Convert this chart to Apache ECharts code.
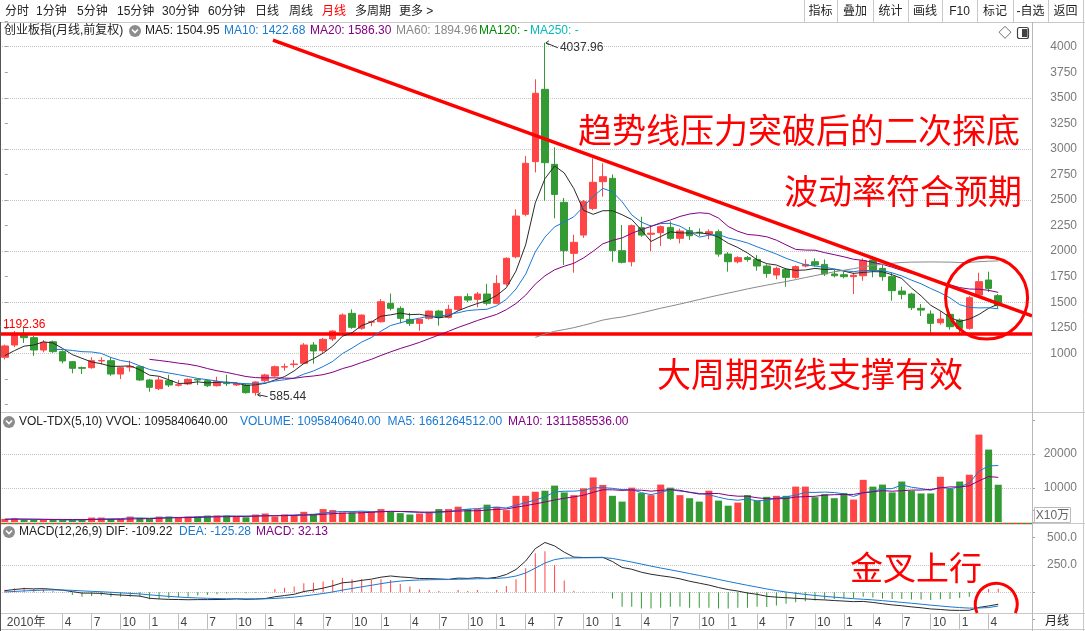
<!DOCTYPE html>
<html><head><meta charset="utf-8">
<script src="https://cdn.jsdelivr.net/npm/echarts/dist/echarts.min.js"></script>
<style>html,body{margin:0;padding:0;background:#fff;}#c{width:1085px;height:631px;}</style>
</head><body><div id="c"></div><script>
const FONT = '"Liberation Sans","Noto Sans CJK SC",sans-serif';
const CJK = '"Noto Sans CJK SC",sans-serif';

const categories = [
'2010/10','2010/11','2010/12',
'2011/1','2011/2','2011/3','2011/4','2011/5','2011/6','2011/7','2011/8','2011/9','2011/10','2011/11','2011/12',
'2012/1','2012/2','2012/3','2012/4','2012/5','2012/6','2012/7','2012/8','2012/9','2012/10','2012/11','2012/12',
'2013/1','2013/2','2013/3','2013/4','2013/5','2013/6','2013/7','2013/8','2013/9','2013/10','2013/11','2013/12',
'2014/1','2014/2','2014/3','2014/4','2014/5','2014/6','2014/7','2014/8','2014/9','2014/10','2014/11','2014/12',
'2015/1','2015/2','2015/3','2015/4','2015/5','2015/6','2015/7','2015/8','2015/9','2015/10','2015/11','2015/12',
'2016/1','2016/2','2016/3','2016/4','2016/5','2016/6','2016/7','2016/8','2016/9','2016/10','2016/11','2016/12',
'2017/1','2017/2','2017/3','2017/4','2017/5','2017/6','2017/7','2017/8','2017/9','2017/10','2017/11','2017/12',
'2018/1','2018/2','2018/3','2018/4','2018/5','2018/6','2018/7','2018/8','2018/9','2018/10','2018/11','2018/12',
'2019/1','2019/2','2019/3','2019/4','2019/5','2019/6','2019/7','2019/8'];

const openP = [961,1081,1195,1153,1032,1113,1016,918,860,859,
925,928,797,865,869,739,654,732,688,700,
745,732,683,710,690,690,615,732,778,865,
890,902,1081,1026,1140,1211,1391,1245,1305,1309,
1489,1440,1332,1293,1342,1413,1351,1430,1554,1528,
1580,1489,1678,1945,2360,2875,3583,2849,2477,1978,
2157,2418,2679,2712,2004,1896,2229,2165,2180,2232,
2125,2200,2185,2167,2190,1971,1896,1936,1919,1854,
1766,1821,1743,1854,1896,1870,1776,1769,1750,1759,
1913,1831,1750,1609,1580,1440,1384,1299,1381,1326,
1244,1570,1717,1564];
const closeP = [1072,1195,1153,1032,1107,1016,925,853,853,928,
930,797,859,870,739,667,739,690,692,745,
739,683,722,703,703,615,719,788,869,869,
895,1081,1023,1137,1218,1375,1254,1374,1309,1505,
1440,1342,1293,1332,1413,1351,1430,1554,1521,1580,
1489,1684,1929,2343,2859,3544,2865,2555,2004,2086,
2484,2673,2728,2004,1890,2249,2157,2175,2239,2125,
2196,2150,2180,2190,1971,1896,1936,1919,1854,1782,
1831,1743,1848,1870,1864,1776,1759,1750,1763,1906,
1815,1750,1613,1577,1446,1423,1293,1335,1260,1244,
1544,1701,1635,1466];
const highP = [1085,1218,1254,1170,1130,1125,1030,925,870,961,
961,961,870,928,880,750,771,790,739,755,
755,745,771,790,715,700,725,800,880,900,
935,1100,1110,1150,1225,1390,1430,1380,1320,1530,
1585,1460,1396,1335,1420,1425,1475,1560,1586,1600,
1680,1765,1940,2408,2930,3681,4037.96,3015,2520,2160,
2500,2908,2859,2750,2255,2260,2337,2255,2250,2290,
2220,2235,2222,2212,2210,1990,1950,1952,1962,1870,
1848,1835,1860,1919,1929,1919,1815,1799,1789,1929,
1952,1864,1790,1652,1593,1482,1420,1414,1400,1340,
1560,1789,1799,1580];
const lowP = [940,1060,1101,975,1010,1005,902,804,797,850,
890,780,748,820,730,624,640,670,675,690,
690,670,675,680,680,605,585.44,720,770,830,
860,895,899,1000,1120,1200,1240,1230,1265,1300,
1420,1294,1267,1220,1330,1270,1340,1420,1500,1450,
1470,1480,1660,1930,2340,2770,2493,2320,1864,1789,
2130,2400,2532,1896,1880,1850,2140,2000,2050,2110,
2075,2110,2147,2115,1945,1799,1880,1896,1808,1740,
1724,1652,1730,1841,1848,1756,1743,1733,1580,1710,
1743,1710,1515,1528,1423,1365,1184,1280,1230,1184,
1230,1550,1600,1440];

const ma5 = [977,1026,1070,1081,1112,1101,1047,987,951,915,
898,872,873,877,839,786,775,741,705,707,
721,710,716,718,710,685,692,706,739,772,
828,900,947,1001,1071,1167,1201,1272,1306,1363,
1376,1394,1378,1382,1364,1346,1364,1416,1454,1487,
1515,1566,1641,1805,2061,2472,2708,2833,2765,2611,
2399,2360,2395,2395,2356,2309,2206,2095,2142,2189,
2178,2177,2178,2168,2137,2077,2035,1982,1915,1877,
1864,1826,1812,1815,1831,1820,1823,1804,1782,1791,
1799,1797,1769,1732,1640,1562,1470,1415,1351,1311,
1335,1380,1440,1482];
const ma10 = [null,null,null,null,null,1039,1037,1028,1016,1013,
999,959,930,914,877,842,824,807,791,773,
754,742,729,712,708,703,701,711,729,741,
757,796,827,870,921,997,1051,1110,1154,1217,
1272,1298,1325,1344,1364,1361,1379,1397,1418,1426,
1431,1465,1528,1629,1774,1993,2137,2237,2285,2336,
2435,2534,2614,2580,2483,2354,2283,2245,2269,2272,
2244,2191,2137,2155,2163,2128,2106,2080,2042,2007,
1971,1930,1897,1865,1854,1842,1825,1808,1799,1811,
1809,1810,1787,1757,1716,1680,1634,1592,1542,1476,
1449,1444,1446,1435];
const ma20 = [null,null,null,null,null,null,null,null,null,null,
null,null,null,null,null,941,930,918,904,893,
876,851,829,813,793,773,762,759,760,757,
755,769,778,791,815,850,876,910,941,979,
1014,1047,1076,1107,1143,1179,1215,1253,1286,1321,
1351,1381,1427,1487,1569,1677,1758,1817,1852,1881,
1933,1999,2071,2105,2129,2174,2210,2241,2277,2304,
2339,2363,2375,2368,2323,2241,2194,2163,2155,2140,
2107,2061,2017,2010,2009,1985,1965,1944,1920,1909,
1890,1870,1842,1811,1785,1761,1729,1700,1670,1643,
1629,1627,1616,1596];
const ma60 = [null,null,null,null,null,null,null,null,null,null,
null,null,null,null,null,null,null,null,null,null,
null,null,null,null,null,null,null,null,null,null,
null,null,null,null,null,null,null,null,null,null,
null,null,null,null,null,null,null,null,null,null,
null,null,null,null,null,1156,1188,1215,1232,1251,
1274,1299,1325,1342,1355,1375,1396,1418,1441,1461,
1482,1504,1526,1548,1569,1589,1609,1630,1649,1667,
1685,1702,1721,1741,1760,1779,1797,1813,1828,1845,
1860,1871,1881,1889,1892,1893,1894,1893,1892,1888,
1890,1896,1901,1904];

const volume = [900,1100,700,600,600,600,600,600,600,1300,
1300,900,900,1600,1200,900,1600,1600,1400,1600,
1600,1900,1900,1900,1600,1400,2200,2500,1600,2200,
1900,3000,2400,3800,3500,2800,2800,3100,3000,3800,
3000,2600,2200,2500,3000,3800,3800,4500,3800,3800,
5100,4500,3500,7700,7700,8900,9200,10700,8700,7900,
9900,13100,10900,7700,6000,10100,8500,7900,11000,10100,
7900,7000,6000,9200,6300,4800,5700,7900,6300,7400,
7700,7700,10400,10400,7300,8200,7000,8500,6600,12400,
10400,11000,8700,11900,9200,8400,8400,13300,9700,11900,
13900,25700,21300,10958];
const volMa5 = [820,880,860,820,780,720,620,600,600,740,
880,940,1000,1200,1180,1100,1240,1380,1340,1420,
1560,1620,1680,1780,1780,1740,1800,1920,1860,1980,
2080,2240,2220,2660,2920,3100,3060,3200,3040,3100,
3140,3100,2920,2820,2660,2820,3060,3520,3780,3940,
4200,4340,4140,4920,5700,6460,7400,8840,9040,9080,
9280,10060,10100,9900,9520,9560,8640,8040,8700,9520,
9080,8780,8400,8040,7280,6660,6400,6780,6200,6420,
7000,7400,7900,8720,8700,8800,8660,8280,7520,8540,
8980,9780,9820,10880,10240,9840,9320,10240,9800,10340,
11440,14900,16500,16612];
const volMa10 = [810,840,830,810,790,770,750,730,710,760,
800,780,800,900,960,990,1090,1190,1270,1300,
1330,1430,1530,1560,1600,1650,1710,1800,1820,1880,
1910,2020,2070,2260,2450,2590,2650,2710,2850,3010,
3120,3080,3060,2930,2880,2980,3080,3220,3300,3300,
3510,3700,3830,4350,4820,5330,5870,6490,6980,7390,
7870,8730,9470,9470,9300,9420,9350,9070,9300,9520,
9320,8710,8220,8370,8400,7870,7590,7590,7120,6850,
6830,6900,7340,7460,7560,7900,8030,8090,8120,8620,
8890,9220,9050,9200,9390,9410,9550,10030,10340,10290,
10640,12110,13370,13116];

const dif = [15,25.5,33.8,31.5,33.4,27.4,19.5,6,-7,-7.6,
-9.9,-19.9,-24.9,-29.9,-34.9,-54.9,-61,-64.9,-66.1,-68.1,
-66.9,-66.9,-66.1,-64.6,-60.5,-64.6,-62,-56.8,-41,-29.8,
-18.3,7,21,38.2,59.8,87.1,94.5,109.4,120.5,138.4,
149.5,140.5,135,125.9,125.5,122.5,118.4,130,127,134.1,
127.4,137.5,163.2,208.6,286.6,399.7,456.2,424.5,367.6,322.5,
318.7,319.5,320.2,281.6,227.6,211.1,184,165.4,151.8,139.8,
123.3,101.2,83.6,66,43.4,24.8,11.2,-6.4,-18.4,-36.8,
-44.3,-49.9,-54.9,-60.2,-66.1,-69.9,-75.7,-80.3,-85.6,-83.6,
-93,-104.5,-115.3,-123.1,-133.4,-141.7,-152.5,-157.5,-164.3,-165.8,
-164.8,-138.6,-124.9,-109.22];
const dea = [3,7.5,12.8,16.5,19.9,21.4,21,18,13,8.9,
5.2,0.2,-4.9,-9.9,-14.9,-22.9,-30.5,-37.4,-43.1,-48.1,
-51.9,-54.9,-57.1,-58.6,-59,-60.1,-60.5,-59.8,-56,-50.8,
-44.3,-34,-23,-10.8,3.3,20.1,35,49.9,64,78.9,
93,102.5,109,112.4,115,116.5,116.9,119.5,121,123.6,
124.4,127,134.2,149.1,176.6,221.2,268.2,299.5,313.1,315,
315.7,316.5,317.2,310.1,293.6,277.1,258.5,239.9,222.3,205.8,
189.3,171.7,154.1,136.5,117.9,99.3,81.7,64.1,47.6,30.7,
15.7,2.6,-8.9,-19.2,-28.6,-36.9,-44.7,-51.8,-58.6,-63.6,
-69.5,-76.5,-84.3,-92.1,-100.4,-108.7,-117.5,-125.5,-133.3,-139.8,
-144.8,-143.6,-139.9,-125.28];
const macdHist = [24,36,42,30,27,12,-3,-24,-40,-33,
-30,-40,-40,-40,-40,-64,-61,-55,-46,-40,
-30,-24,-18,-12,-3,-9,-3,6,30,42,
52,82,88,98,113,134,119,119,113,119,
113,76,52,27,21,12,3,21,12,21,
6,21,58,119,220,357,376,250,109,15,
6,6,6,-57,-132,-132,-149,-149,-141,-132,
-132,-141,-141,-141,-149,-149,-141,-141,-132,-135,
-120,-105,-92,-82,-75,-66,-62,-57,-54,-40,
-47,-56,-62,-62,-66,-66,-70,-64,-62,-52,
-40,10,30,32.13];

const mainTicks = [1000,1250,1500,1750,2000,2250,2500,2750,3000,3250,3500,3750,4000];
const volTicks = [10000,20000];
const macdTicks = [250,500];
const neckline = 1192.36;
const trendLine = [[27.8,4065],[106.5,1367]];

const UP = '#ff4545', DOWN = '#349a34';
const GRID_C = '#c4c4c4', NONE = 'rgba(0,0,0,0)';

const kData = openP.map((o,i)=>[o, closeP[i], lowP[i], highP[i]]);
const volData = volume.map((v,i)=>({value:v,itemStyle:{color: closeP[i]>=openP[i]?UP:DOWN}}));
const histData = macdHist.map(v=>({value:v,itemStyle:{color: v>=0?UP:DOWN}}));

function monthOf(c){return +c.split('/')[1];}
function isQuarter(idx){ if(idx<6||idx>=openP.length) return false; const m=monthOf(categories[idx]); return m===1||m===4||m===7||m===10; }
function splitColors(min,max,step,keep){const a=[];for(let v=min;v<=max+1e-9;v+=step){a.push(keep(v)?GRID_C:NONE);}return a;}

const option = {
  animation:false,
  backgroundColor:'#ffffff',
  textStyle:{fontFamily:FONT},
  grid:[
    {left:0,width:1032,top:21.15,height:383.25},
    {left:0,width:1032,top:420,height:102},
    {left:0,width:1032,top:510.4,height:109.2},
    {left:0,width:1032,top:612.5,height:1}
  ],
  xAxis:[
    {type:'category',gridIndex:0,data:categories,show:false},
    {type:'category',gridIndex:1,data:categories,show:false},
    {type:'category',gridIndex:2,data:categories,show:false},
    {type:'value',gridIndex:0,min:-0.5,max:categories.length-0.5,show:false},
    {type:'category',gridIndex:3,data:categories,position:'bottom',
      axisLine:{show:false},
      axisTick:{show:true,alignWithLabel:true,length:16,interval:(i)=>isQuarter(i),lineStyle:{color:'#bdbdbd'}},
      axisLabel:{interval:(i)=>i===0||isQuarter(i),
        formatter:(v,i)=> i===0 ? v.split('/')[0]+'年' : String(monthOf(v)),
        align:'left',margin:3,color:'#444',fontSize:12,padding:[0,0,0,2],fontFamily:FONT},
      splitLine:{show:false}}
  ],
  yAxis:[
    {type:'value',gridIndex:0,position:'right',min:500,max:4250,interval:250,
      axisLine:{show:false},axisTick:{show:true,length:3,lineStyle:{color:'#a0a0a0'}},
      axisLabel:{formatter:v=>mainTicks.includes(v)?String(v):'',align:'right',margin:45,color:'#7a7a7a',fontSize:12},
      splitLine:{show:true,lineStyle:{type:'dotted',width:1,color:splitColors(500,4250,250,v=>v>=1000&&v<=4000&&v%500===0)}}},
    {type:'value',gridIndex:1,position:'right',min:0,max:30000,interval:10000,
      axisLine:{show:false},axisTick:{show:true,length:3,lineStyle:{color:'#a0a0a0'}},
      axisLabel:{formatter:v=>volTicks.includes(v)?String(v):'',align:'right',margin:45,color:'#7a7a7a',fontSize:12},
      splitLine:{show:true,lineStyle:{type:'dotted',width:1,color:splitColors(0,30000,10000,v=>volTicks.includes(v))}}},
    {type:'value',gridIndex:2,position:'right',min:-250,max:750,interval:250,
      axisLine:{show:false},axisTick:{show:true,length:3,lineStyle:{color:'#a0a0a0'}},
      axisLabel:{formatter:v=>macdTicks.includes(v)?v.toFixed(1):'',align:'right',margin:45,color:'#7a7a7a',fontSize:12},
      splitLine:{show:true,lineStyle:{type:'dotted',width:1,color:splitColors(-250,750,250,v=>v===0||v===250)}}},
    {type:'value',gridIndex:3,show:false}
  ],
  series:[
    {type:'candlestick',xAxisIndex:0,yAxisIndex:0,data:kData,barWidth:7,silent:true,
      itemStyle:{color:UP,color0:DOWN,borderColor:UP,borderColor0:DOWN,borderWidth:1},
      markLine:{silent:true,symbol:['none','none'],animation:false,
        data:[{yAxis:neckline}],
        lineStyle:{color:'#ff0000',width:3.5,type:'solid'},
        label:{show:true,position:'insideStartTop',formatter:String(neckline),color:'#ff0000',fontSize:12,distance:[3,3],fontFamily:FONT}}},
    {type:'line',xAxisIndex:0,yAxisIndex:0,data:ma5,symbol:'none',silent:true,z:5,lineStyle:{color:'#2a2a2a',width:1}},
    {type:'line',xAxisIndex:0,yAxisIndex:0,data:ma10,symbol:'none',silent:true,z:5,lineStyle:{color:'#1a78d2',width:1}},
    {type:'line',xAxisIndex:0,yAxisIndex:0,data:ma20,symbol:'none',silent:true,z:5,lineStyle:{color:'#840084',width:1}},
    {type:'line',xAxisIndex:0,yAxisIndex:0,data:ma60,symbol:'none',silent:true,z:5,lineStyle:{color:'#8a8a8a',width:1}},
    {type:'line',xAxisIndex:3,yAxisIndex:0,data:trendLine,symbol:'none',silent:true,z:6,lineStyle:{color:'#ff0000',width:3.5}},
    {type:'bar',xAxisIndex:1,yAxisIndex:1,data:volData,barWidth:7,silent:true},
    {type:'line',xAxisIndex:1,yAxisIndex:1,data:volMa5,symbol:'none',silent:true,z:5,lineStyle:{color:'#1a78d2',width:1}},
    {type:'line',xAxisIndex:1,yAxisIndex:1,data:volMa10,symbol:'none',silent:true,z:5,lineStyle:{color:'#840084',width:1}},
    {type:'bar',xAxisIndex:2,yAxisIndex:2,data:histData,barWidth:1,silent:true},
    {type:'line',xAxisIndex:2,yAxisIndex:2,data:dif,symbol:'none',silent:true,z:5,lineStyle:{color:'#2a2a2a',width:1}},
    {type:'line',xAxisIndex:2,yAxisIndex:2,data:dea,symbol:'none',silent:true,z:5,lineStyle:{color:'#1a78d2',width:1}}
  ]
};

const chart = echarts.init(document.getElementById('c'),null,{renderer:'canvas'});
chart.setOption(option);

function txt(x,y,s,color,size,align,fam){return {type:'text',x:x,y:y,z:100,silent:true,style:{text:s,fill:color||'#222',font:(size||12)+'px '+(fam||FONT),align:align||'left',verticalAlign:'middle'}};}
function ln(x1,y1,x2,y2,color,w,dash,off){return {type:'line',z:100,silent:true,shape:{x1:x1,y1:y1,x2:x2,y2:y2},style:{stroke:color,lineWidth:w||1,lineDash:dash||null,lineDashOffset:off||0}};}
function icon(cx,cy){return [
  {type:'circle',z:100,silent:true,shape:{cx:cx,cy:cy,r:6},style:{fill:'#8c8c8c'}},
  {type:'polyline',z:101,silent:true,shape:{points:[[cx-3,cy-1.5],[cx,cy+1.5],[cx+3,cy-1.5]]},style:{stroke:'#fff',lineWidth:1.6,fill:null}}
];}

const g = [];
// toolbar
[['分时',5],['1分钟',36],['5分钟',77],['15分钟',117],['30分钟',162],['60分钟',208],['日线',255],['周线',289]].forEach(a=>g.push(txt(a[1],12,a[0],'#222')));
g.push(txt(322,12,'月线','#ff0000'));
g.push(txt(355,12,'多周期','#222'));
g.push(txt(399,12,'更多 >','#222'));
[804,837,873,908,942,977,1013,1048,1083].forEach(x=>g.push(ln(x+0.5,0,x+0.5,22,'#c8c8c8')));
[['指标',820.5],['叠加',855],['统计',890.5],['画线',925],['F10',959.5],['标记',995],['-自选',1030.5],['返回',1065.5]].forEach(a=>g.push(txt(a[1],12,a[0],'#222',12,'center')));
g.push(ln(0,22.5,1085,22.5,'#c8c8c8'));
// main legend
g.push(txt(4,31,'创业板指(月线,前复权)','#222'));
icon(135,31).forEach(e=>g.push(e));
g.push(txt(145,31,'MA5: 1504.95','#222'));
g.push(txt(224,31,'MA10: 1422.68','#1a78d2'));
g.push(txt(310,31,'MA20: 1586.30','#840084'));
g.push(txt(396,31,'MA60: 1894.96','#888888'));
g.push(txt(479,31,'MA120: -','#008a00'));
g.push(txt(530,31,'MA250: -','#00bcbc'));
g.push(txt(1005,33,'◇','#444',13,'center'));
g.push({type:'rect',z:100,silent:true,shape:{x:1017.5,y:27.5,width:11,height:11,r:2},style:{fill:'#fff',stroke:'#444',lineWidth:1.2}});
g.push({type:'rect',z:101,silent:true,shape:{x:1022,y:29,width:5.5,height:8},style:{fill:'#444'}});
// panel frames
g.push(ln(0,412.5,1085,412.5,'#c8c8c8'));
g.push(ln(0,523.5,1032,523.5,'#2e9a2e',1.5,[3,3],3));
g.push(ln(0,523.5,1032,523.5,'#ff3a3a',1.5,[3,3],0));
g.push(ln(1032,523.5,1085,523.5,'#c8c8c8'));
g.push(ln(0,613.5,1085,613.5,'#c8c8c8'));
g.push(ln(0,629.5,1085,629.5,'#c8c8c8'));
g.push(ln(1032.5,22,1032.5,631,'#b8b8b8'));
g.push(ln(1083.5,0,1083.5,631,'#c8c8c8'));
g.push(ln(0.5,22,0.5,631,'#555'));
// volume legend
icon(9,422).forEach(e=>g.push(e));
g.push(txt(19,422,'VOL-TDX(5,10) VVOL: 1095840640.00','#222'));
g.push(txt(240,422,'VOLUME: 1095840640.00  MA5: 1661264512.00','#1a78d2'));
g.push(txt(508,422,'MA10: 1311585536.00','#840084'));
g.push({type:'rect',z:100,silent:true,shape:{x:1034.5,y:507.5,width:36,height:15},style:{fill:'#fff',stroke:'#bbb',lineWidth:1}});
g.push(txt(1052.5,515.5,'X10万','#666',12,'center'));
// macd legend
icon(9,532).forEach(e=>g.push(e));
g.push(txt(19,532,'MACD(12,26,9) DIF: -109.22','#222'));
g.push(txt(179,532,'DEA: -125.28','#1a78d2'));
g.push(txt(256,532,'MACD: 32.13','#840084'));
g.push(txt(1057,622,'月线','#222',12,'center'));
// annotations text
g.push(txt(578,130,'趋势线压力突破后的二次探底','#ff0000',34,'left',CJK));
g.push(txt(784,191,'波动率符合预期','#ff0000',34,'left',CJK));
g.push(txt(657,374,'大周期颈线支撑有效','#ff0000',34,'left',CJK));
g.push(txt(850,567,'金叉上行','#ff0000',33,'left',CJK));

// data-anchored annotations
const iPeak = highP.indexOf(Math.max.apply(null,highP));
const iLow = lowP.indexOf(Math.min.apply(null,lowP));
const pPeak = chart.convertToPixel({xAxisIndex:0,yAxisIndex:0},[iPeak,highP[iPeak]]);
const pLow = chart.convertToPixel({xAxisIndex:0,yAxisIndex:0},[iLow,lowP[iLow]]);
g.push({type:'polyline',z:100,silent:true,shape:{points:[[pPeak[0]+4,pPeak[1]-2],[pPeak[0]+1,pPeak[1]],[pPeak[0]+4,pPeak[1]+2]]},style:{stroke:'#333',lineWidth:1,fill:null}});
g.push(ln(pPeak[0]+1,pPeak[1],pPeak[0]+13,pPeak[1]+5,'#333'));
g.push(txt(pPeak[0]+15,pPeak[1]+4.5,String(highP[iPeak]),'#333'));
g.push({type:'polyline',z:100,silent:true,shape:{points:[[pLow[0]+5,pLow[1]-3],[pLow[0]+2,pLow[1]-1],[pLow[0]+5,pLow[1]+1]]},style:{stroke:'#333',lineWidth:1,fill:null}});
g.push(ln(pLow[0]+2,pLow[1]-1,pLow[0]+12,pLow[1]+1,'#333'));
g.push(txt(pLow[0]+14,pLow[1]+1,String(lowP[iLow]),'#333'));
const pc = chart.convertToPixel({xAxisIndex:0,yAxisIndex:0},[102,1540]);
g.push({type:'circle',z:100,silent:true,shape:{cx:pc[0]-2,cy:pc[1],r:41},style:{fill:null,stroke:'#ff0000',lineWidth:3}});
const pm = chart.convertToPixel({xAxisIndex:2,yAxisIndex:2},[103,-110]);
const r2 = 21, cut = 613;
const d = Math.max(-1,Math.min(1,(cut-pm[1])/r2)), th = Math.asin(d);
g.push({type:'arc',z:100,silent:true,shape:{cx:pm[0]-2,cy:pm[1],r:r2,startAngle:Math.PI-th,endAngle:2*Math.PI+th,clockwise:true},style:{fill:null,stroke:'#ff0000',lineWidth:3}});

chart.setOption({graphic:{elements:g}});
</script></body></html>
